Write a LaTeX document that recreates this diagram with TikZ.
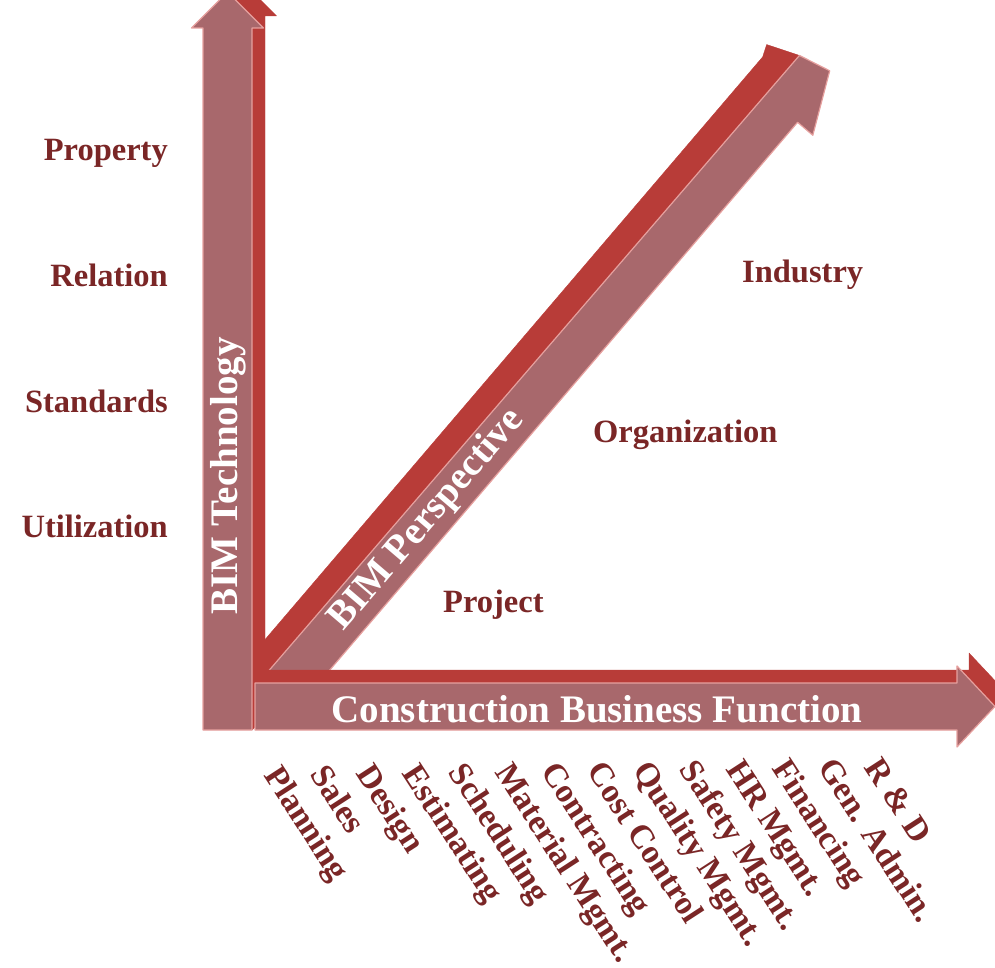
\documentclass[tikz,border=0pt]{standalone}
\usepackage{fontspec}
\setmainfont{Liberation Serif}
\usepackage{tikz}
\usetikzlibrary{positioning}

\definecolor{mauve}{HTML}{A8686C}
\definecolor{brick}{HTML}{B83C38}
\definecolor{blush}{HTML}{E6A09E}
\definecolor{wine}{HTML}{7A2626}

\begin{document}
\begin{tikzpicture}[x=1pt,y=1pt,
        face/.style={fill=mauve, draw=blush, line width=1.2pt, line join=round},
        depth/.style={fill=brick, draw=brick, line width=0.4pt, line join=round},
        axistext/.style={text=white, font=\bfseries\fontsize{39}{40}\selectfont, inner sep=0pt},
        tier/.style={text=wine, font=\bfseries\fontsize{32.5}{34}\selectfont, inner sep=0pt},
        func/.style={tier, font=\bfseries\fontsize{33.5}{35}\selectfont, rotate=-57, anchor=base west}]
        \useasboundingbox (0,0) rectangle (995,967);
        \clip (0,0) rectangle (995,967);

        % perspective arrow
        \begin{scope}[shift={(271,299)}, rotate=49.5]
            \fill[depth] (-29,23) -- (784,23) -- (796,28) -- (809,-4) -- (-25,0) -- cycle;
            \draw[face] (-25,-46) -- (757,-46) -- (757,-66) -- (817,-37) -- (809,-4) -- (-25,0) -- cycle;
        \end{scope}

        \fill[depth] (252,237) -- (252,939) -- (263.5,939) -- (227.5,975) -- (240.5,987) -- (276.5,951) -- (265,951) -- (265,249) -- cycle;
        \draw[face] (203,237) -- (252,237) -- (252,939) -- (263.5,939) -- (227.5,975) -- (191.5,939) -- (203,939) -- cycle;

        \fill[depth] (255,284) -- (957,284) -- (957,301) -- (995,260.5) -- (1007,273.5) -- (969,314) -- (969,297) -- (255,297) -- cycle;
        \draw[face] (255,237) -- (957,237) -- (957,220) -- (995,260.5) -- (957,301) -- (957,284) -- (255,284) -- cycle;

        \node[axistext, rotate=90] (tech) at (228,491) {BIM Technology};
        \node[axistext, rotate=49.5] (persp) at (427,447) {BIM Perspective};
        \node[axistext] (cbf) at (597,258) {Construction Business Function};

        \node[tier, anchor=base east] (property) at (168,806) {Property};
        \node[tier, anchor=base east] (relation) at (168,680) {Relation};
        \node[tier, anchor=base east] (standards) at (168,554) {Standards};
        \node[tier, anchor=base east] (utilization) at (168,429) {Utilization};

        \node[tier, anchor=base west] (project) at (443,354) {Project};
        \node[tier, anchor=base west] (organization) at (593,524) {Organization};
        \node[tier, anchor=base west] (industry) at (742,684) {Industry};

        \foreach \fname [count=\i from 0] in {Planning, Sales, Design, Estimating, Scheduling, Material Mgmt., Contracting, Cost Control, Quality Mgmt., Safety Mgmt., HR Mgmt., Financing, Gen. Admin., R \& D}
            \node[func] (func\i) at ({263+46.2*\i}, {192+0.6*\i}) {\fname};
\end{tikzpicture}
\end{document}
